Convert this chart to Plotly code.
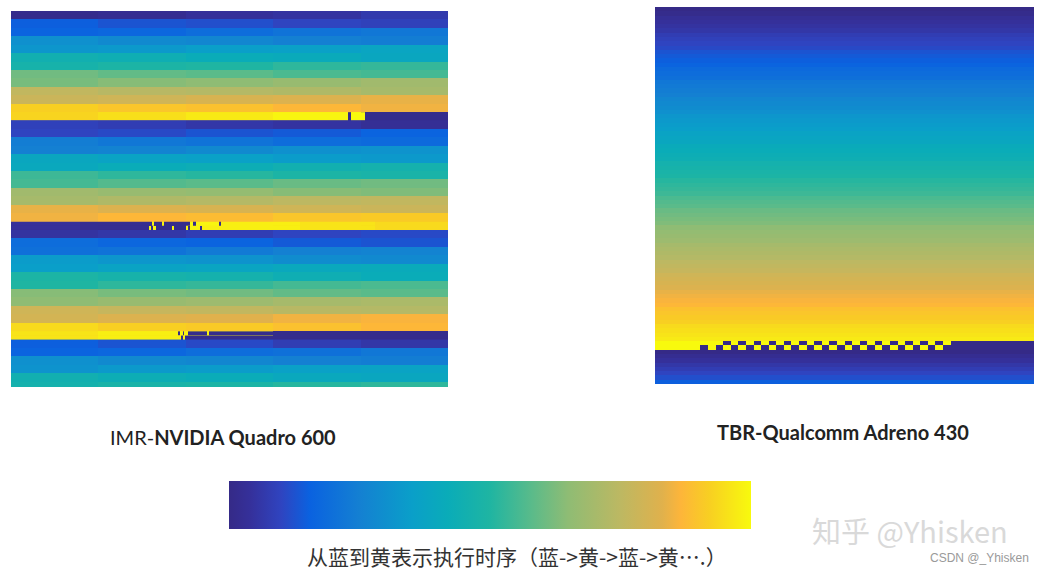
import plotly.graph_objects as go

# colormap at the bottom
color_stops = [0.0, 0.04, 0.1, 0.155, 0.25, 0.35, 0.42, 0.5, 0.58, 0.65, 0.75, 0.83, 0.865, 0.92, 1.0]
color_hex = ["#352a87", "#35309a", "#2f44c0", "#0a62e0", "#1480d2", "#0a9fc9", "#0aacb8", "#1fb5a2",
             "#5abb8a", "#8fbc74", "#bdb862", "#e0b14c", "#fdb53a", "#f8cf22", "#f8fa0d"]

# IMR panel: one row per strip, 5 column samples left to right
imr_edges = [11, 98, 186, 273, 361, 448]
imr_rows = [
    [.01, .02, .04, .05, .07], [.15, .13, .12, .10, .09], [.16, .17, .19, .21, .22],
    [.30, .28, .27, .25, .24], [.32, .33, .35, .36, .38], [.45, .44, .42, .41, .39],
    [.47, .49, .50, .52, .53], [.61, .59, .58, .56, .55], [.62, .64, .65, .67, .69],
    [.76, .74, .73, .72, .70], [.78, .79, .81, .82, .84], [.92, .90, .89, .87, .85],
    [.93, .95, .96, .98, .01], [.09, .08, .06, .05, .03], [.10, .11, .13, .14, .16],
    [.24, .22, .21, .19, .18], [.25, .26, .28, .30, .31], [.39, .37, .36, .34, .33],
    [.40, .42, .43, .45, .46], [.54, .52, .51, .49, .48], [.55, .57, .58, .60, .61],
    [.69, .67, .66, .64, .63], [.70, .72, .73, .75, .76], [.84, .82, .81, .79, .78],
    [.85, .87, .88, .90, .91], [.03, .01, .98, .96, .94], [.05, .06, .08, .10, .11],
    [.19, .17, .16, .14, .13], [.20, .21, .23, .25, .26], [.34, .32, .31, .29, .28],
    [.35, .37, .38, .40, .41], [.49, .47, .46, .44, .42], [.50, .52, .53, .55, .56],
    [.64, .62, .61, .59, .58], [.65, .67, .68, .70, .71], [.79, .77, .76, .74, .73],
    [.80, .82, .83, .85, .86], [.94, .92, .91, .89, .87], [.95, .97, .99, .02, .01],
    [.15, .13, .11, .08, .06], [.16, .17, .19, .20, .22], [.30, .28, .27, .25, .24],
    [.31, .33, .34, .36, .37], [.45, .43, .42, .40, .39], [.46, .48, .49, .51, .52],
]

# strips where the order wraps from yellow to blue: (top, bottom), run edges, run values
wrap_runs = [
    ((12, 13), [11, 98, 186, 273, 348, 351, 365, 448],
     [.93, .95, .97, .99, .01, 1.0, .01]),
    ((25, 25.5), [11, 80, 152.3, 154, 162.3, 164, 190, 193.3, 196, 219.3, 221, 300, 375, 448],
     [.04, .02, .99, .01, .99, .01, 1.0, .01, .99, .01, .98, .96, .94]),
    ((25.5, 26), [11, 80, 149, 150.7, 153.3, 156, 172.3, 174, 186, 188.3, 190, 200, 201.7, 300, 375, 448],
     [.04, .02, .99, .01, .99, .01, .99, .01, .99, .01, .99, .01, .98, .96, .94]),
    ((38, 38.5), [11, 98, 178.3, 180, 183, 184, 188, 207, 208.5, 330, 448],
     [.96, .98, .01, .99, .01, .99, .01, .99, .01, .01]),
    ((38.5, 39), [11, 98, 180.5, 183, 185, 330, 448],
     [.96, .98, .01, .99, .01, .01]),
]

# TBR panel: one value per row, top to bottom
tbr_rows = [
    0.00, .01, .03, .04, .05, .06, .08, .09, .10, .11,
    .13, .14, .15, .16, .18, .19, .20, .22, .23, .24,
    .25, .27, .28, .29, .30, .32, .33, .34, .35, .37,
    .38, .39, .41, .42, .43, .44, .46, .47, .48, .49,
    .51, .52, .53, .54, .56, .57, .58, .60, .61, .62,
    .63, .65, .66, .67, .68, .70, .71, .72, .73, .75,
    .76, .77, .79, .80, .81, .82, .84, .85, .86, .87,
    .89, .90, .91, .92, .94, .95, .96, .97,
    .98, .99,
    .00, .02, .04, .06, .08, .10, .12, .15,
]
# the checker rows, Y = still yellow, D = already next sweep
tbr_checker = {
    78: "YYYYYYYYYDYDYDYDYDYDYDYDYDYDYDYDYDYDYDYDDDDDDDDDDD"[:9] + "DY" * 14 + "DY" + "D" * 11,
    79: "YYYYYY" + "DY" * 16 + "DDDDDDDDDDDD",
}
checker_value = {"Y": 1.0, "D": 0.0}

tbr_cols = 50
tbr_z = []
for i, v in enumerate(tbr_rows):
    if i in tbr_checker:
        tbr_z.append([checker_value[c] for c in tbr_checker[i]])
    else:
        tbr_z.append([v] * tbr_cols)

fig = go.Figure()

# left panel
fig.add_trace(go.Heatmap(x=imr_edges, y=list(range(len(imr_rows) + 1)), z=imr_rows,
                         coloraxis="coloraxis", xaxis="x", yaxis="y", hoverinfo="skip"))
for (top, bottom), edges, vals in wrap_runs:
    fig.add_trace(go.Heatmap(x=edges, y=[top, bottom], z=[vals],
                             coloraxis="coloraxis", xaxis="x", yaxis="y", hoverinfo="skip"))

# right panel
fig.add_trace(go.Heatmap(x=list(range(tbr_cols + 1)), y=list(range(len(tbr_rows) + 1)), z=tbr_z,
                         coloraxis="coloraxis", xaxis="x2", yaxis="y2", hoverinfo="skip"))

W, H = 1049, 574
fig.update_layout(
    width=W, height=H,
    margin=dict(l=0, r=0, t=0, b=0, autoexpand=False),
    paper_bgcolor="white", plot_bgcolor="white",
    showlegend=False,
    coloraxis=dict(
        cmin=0, cmax=1,
        colorscale=[[s, c] for s, c in zip(color_stops, color_hex)],
        colorbar=dict(orientation="h", x=229 / W, xanchor="left", y=1 - 481 / H, yanchor="top",
                      len=522, lenmode="pixels", thickness=48, thicknessmode="pixels",
                      outlinewidth=0, ticks="", showticklabels=False, xpad=0, ypad=0),
    ),
    xaxis=dict(domain=[11 / W, 448 / W], range=[11, 448], visible=False),
    yaxis=dict(domain=[1 - 387 / H, 1 - 11 / H], range=[44.6, 0], visible=False),
    xaxis2=dict(domain=[655 / W, 1034 / W], range=[0, tbr_cols], visible=False),
    yaxis2=dict(domain=[1 - 384 / H, 1 - 7 / H], range=[88, 0], visible=False),
)

latin = "Lato, 'Noto Sans', sans-serif"
cjk = "'Noto Sans CJK SC', sans-serif"


def label(text, x, y, size, color, family, anchor="left"):
    fig.add_annotation(text=text, x=x / W, y=1 - y / H, xref="paper", yref="paper", xanchor=anchor,
                       yanchor="middle", showarrow=False, font=dict(size=size, color=color, family=family))


label("IMR-<b>NVIDIA Quadro 600</b>", 108, 437, 20, "#222222", latin)
label("<b>TBR-Qualcomm Adreno 430</b>", 715, 432, 20, "#222222", latin)
label("从蓝到黄表示执行时序（蓝->黄->蓝->黄….）", 305, 556, 21, "#333333", cjk)
label("知乎 @Yhisken", 810, 530, 29, "#d9d9d9", cjk)
label("CSDN @_Yhisken", 928, 558, 12, "#9a9a9a", "'Liberation Sans', sans-serif")

fig.write_html("out.html", config={"displayModeBar": False},
               post_script="document.body.style.margin='0';")
